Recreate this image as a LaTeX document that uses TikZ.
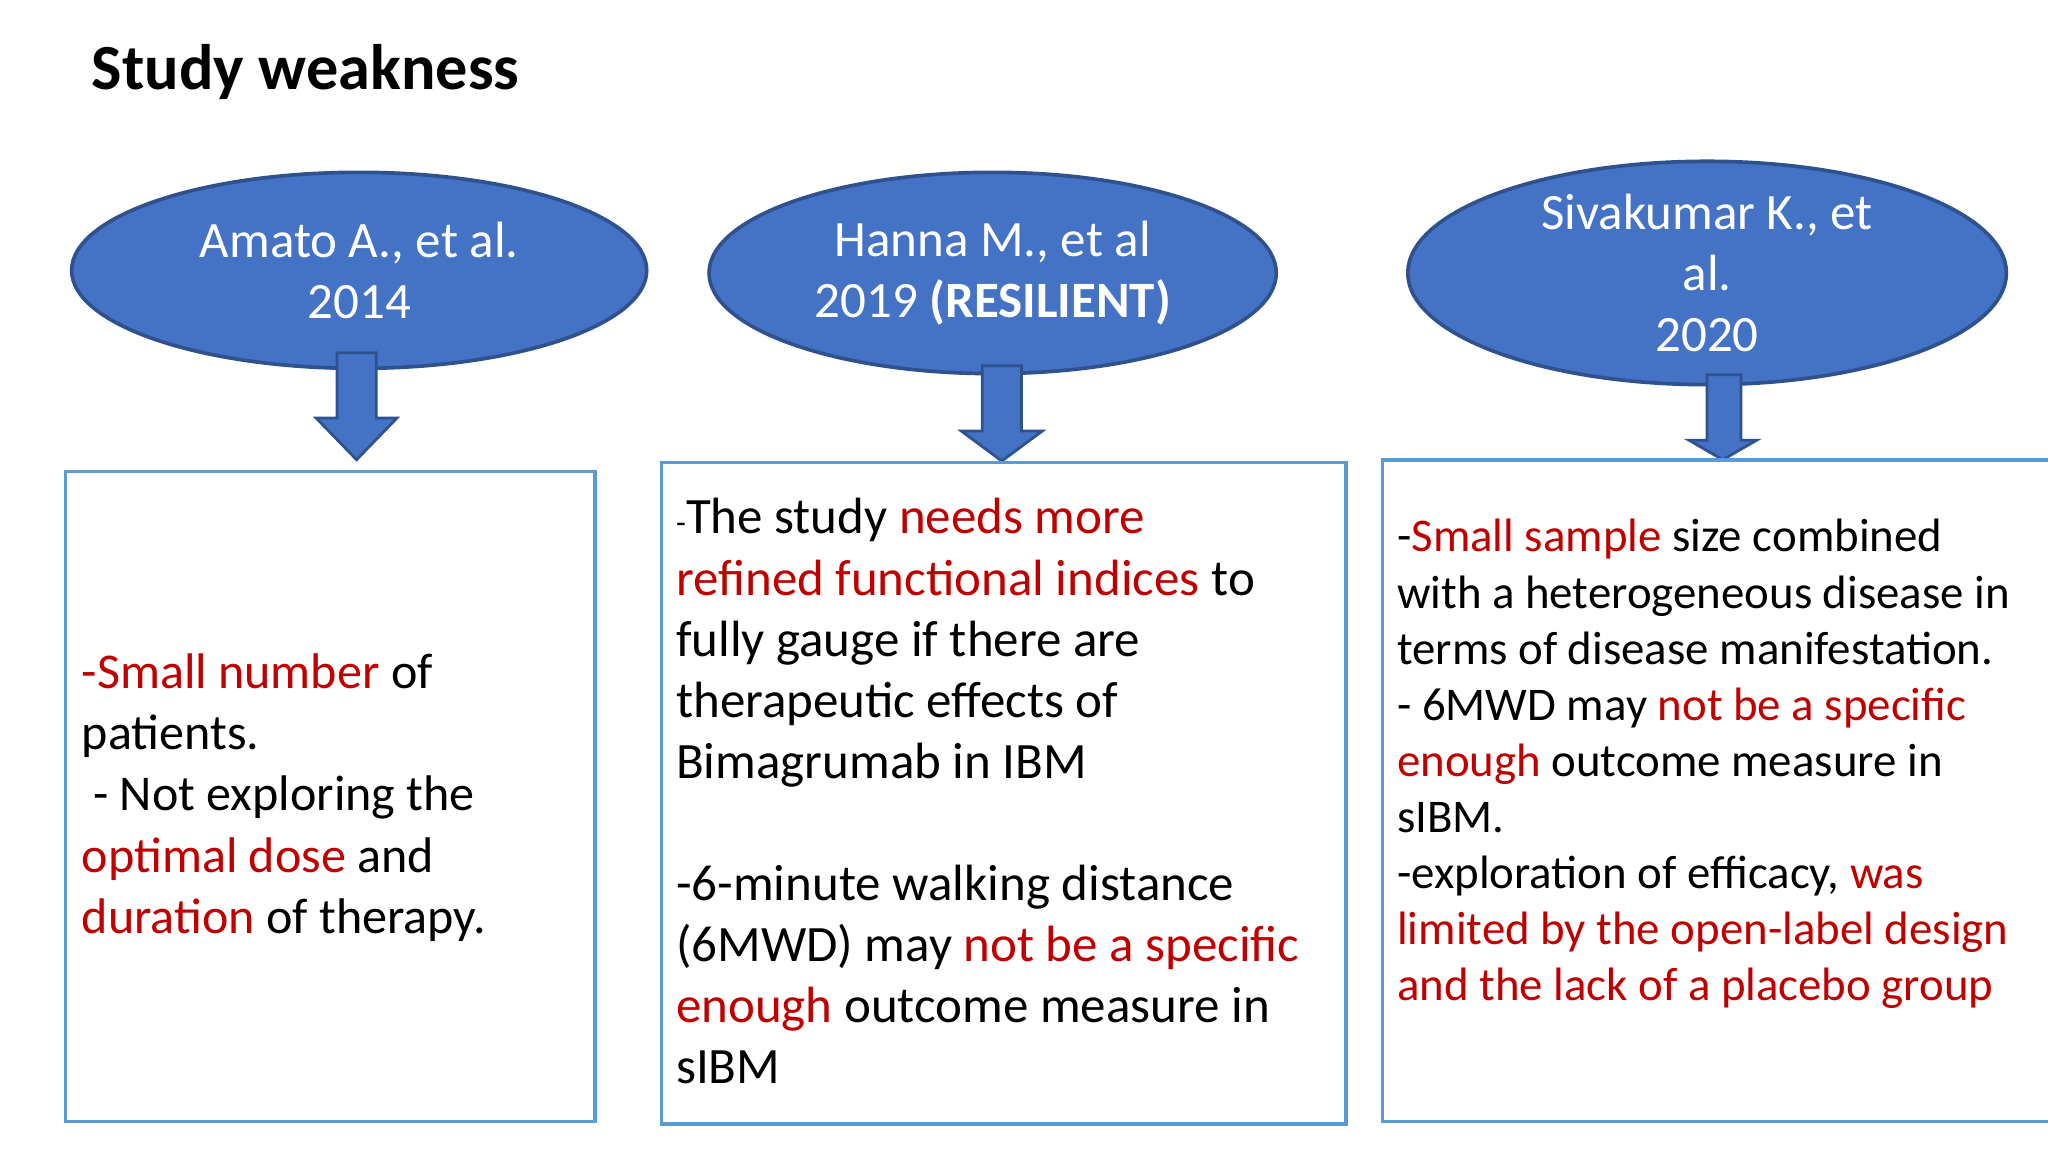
\documentclass[tikz,border=0pt]{standalone}
\usepackage{fontspec}
\setmainfont{Carlito}
\usetikzlibrary{shapes.geometric}
\definecolor{efill}{HTML}{4472C4}
\definecolor{edge}{HTML}{2F528F}
\definecolor{bx}{HTML}{5B9BD5}
\definecolor{rd}{HTML}{C00000}
\newcommand{\R}[1]{\textcolor{rd}{#1}}
\begin{document}
\begin{tikzpicture}[x=0.01cm,y=-0.01cm,
  oval/.style={ellipse,draw=edge,fill=efill,line width=0.8pt,text=white,align=center,font=\fontsize{11.1}{13.3}\selectfont,inner sep=0},
  box/.style={draw=bx,line width=0.7pt,fill=white,anchor=north west,inner sep=0},
  txt/.style={anchor=north west,inner sep=0,align=left,font=\fontsize{10.9}{13.3}\selectfont},
  arr/.style={fill=efill,draw=edge,line width=0.6pt}]
\useasboundingbox (0,0) rectangle (1568,882);
\node[anchor=west,font=\bfseries\fontsize{14}{16}\selectfont] (title) at (58,55) {Study weakness};
\node[oval,minimum width=4.40cm,minimum height=1.50cm] (e1) at (275,207) {Amato A., et al.\\2014};
\node[oval,minimum width=4.34cm,minimum height=1.54cm] (e2) at (760,209) {Hanna M., et al\\2019 \textbf{(RESILIENT)}};
\node[oval,minimum width=4.58cm,minimum height=1.50cm] (e3) at (1307,209) {Sivakumar K., et\\al.\\2020};
\draw[arr] (258,270) -- (288,270) -- (288,320) -- (304,320) -- (273,352) -- (242,320) -- (258,320) -- cycle;
\draw[arr] (752,280) -- (782,280) -- (782,330) -- (798,330) -- (767,353) -- (736,330) -- (752,330) -- cycle;
\draw[arr] (1307,287) -- (1333,287) -- (1333,337) -- (1345,337) -- (1319,352) -- (1293,337) -- (1307,337) -- cycle;
\node[box,minimum width=4.05cm,minimum height=4.97cm] (b1) at (49,360) {};
\node[box,minimum width=5.24cm,minimum height=5.06cm] (b2) at (505,353) {};
\node[box,minimum width=5.11cm,minimum height=5.06cm] (b3) at (1057,351) {};
\node[txt] (t1) at (62,500) {\R{-Small number} of\\patients.\\ \ - Not exploring the\\\R{optimal dose} and\\\R{duration} of therapy.};
\node[txt,font=\fontsize{11.1}{13.3}\selectfont] (t2) at (517,381) {{\scriptsize-}The study \R{needs more}\\\R{refined functional indices} to\\fully gauge if there are\\therapeutic effects of\\Bimagrumab in IBM\\ \mbox{}\\-6-minute walking distance\\(6MWD) may \R{not be a specific}\\\R{enough} outcome measure in\\sIBM};
\node[txt,font=\fontsize{10.2}{12.2}\selectfont] (t3) at (1069,397) {-\R{Small sample} size combined\\with a heterogeneous disease in\\terms of disease manifestation.\\- 6MWD may \R{not be a specific}\\\R{enough} outcome measure in\\sIBM.\\-exploration of efficacy, \R{was}\\\R{limited by the open-label design}\\\R{and the lack of a placebo group}};
\end{tikzpicture}
\end{document}
